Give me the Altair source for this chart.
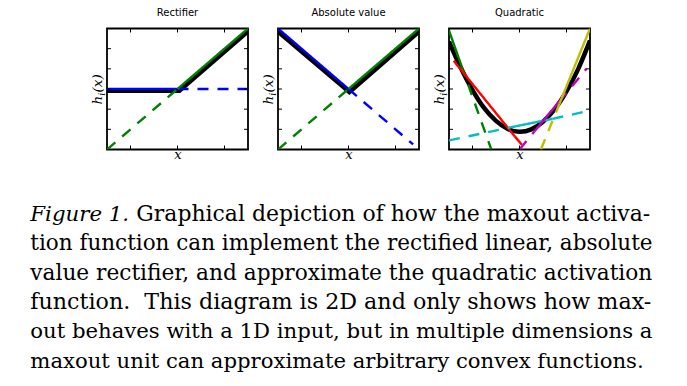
import altair as alt
import pandas as pd

# ---------------- data ----------------
COLOR_NAMES = ["blue", "green", "red", "cyan", "magenta", "yellow"]
COLOR_HEX = ["#0000ff", "#008000", "#ff0000", "#00bfbf", "#bf00bf", "#bfbf00"]
STYLE_NAMES = ["solid", "dashed"]
STYLE_DASH = [[1, 0], [11, 9]]

X_TICKS = [-2, 0, 2]
Y_TICKS_LIN = [-2, -1, 0, 1, 2]
Y_TICKS_QUAD = [1, 2, 3, 4, 5]

# Rectifier: linear pieces (start x/y, end x/y)
RECT_SERIES = ["blue", "blue", "green", "green"]
RECT_STYLE = ["solid", "dashed", "dashed", "solid"]
RECT_X0 = [-3, 0, -3, 0]
RECT_Y0 = [0, 0, -3, 0]
RECT_X1 = [0, 3, 0, 3]
RECT_Y1 = [0, 0, 0, 3]
RECT_BLACK_X = [-3, 0.08, 3]
RECT_BLACK_Y = [-0.09, -0.09, 2.86]

# Absolute value
ABS_SERIES = ["blue", "blue", "green", "green"]
ABS_STYLE = ["solid", "dashed", "dashed", "solid"]
ABS_X0 = [-3, 0, -3, 0]
ABS_Y0 = [3, 0, -3, 0]
ABS_X1 = [0, 2.75, 0, 3]
ABS_Y1 = [0, -2.75, 0, 3]
ABS_BLACK_X = [-3, 0.04, 3]
ABS_BLACK_Y = [2.85, -0.15, 2.85]

# Quadratic
QUAD_SERIES = ["green", "green", "red", "red", "cyan", "cyan", "cyan",
               "magenta", "magenta", "magenta", "yellow", "yellow"]
QUAD_STYLE = ["solid", "dashed", "solid", "dashed", "dashed", "solid", "dashed",
              "dashed", "solid", "dashed", "dashed", "solid"]
QUAD_X0 = [-3, -2.47, -2.8, -0.2, -3, -0.5, 1.4, 0.0, 0.63, 1.69, 0.91, 1.7]
QUAD_Y0 = [5.9, 4.15, 4.4, 0.65, 0.45, 1.07, 1.52, 0.0, 0.89, 2.38, 0.0, 2.27]
QUAD_X1 = [-2.47, -1.2, -0.2, 0.27, -0.5, 1.4, 3.0, 0.63, 1.69, 2.85, 1.7, 3.0]
QUAD_Y1 = [4.15, 0.0, 0.65, 0.0, 1.07, 1.52, 1.93, 0.89, 2.38, 4.0, 2.27, 6.0]
QUAD_CURVE_X = [-3, -2.5, -2, -1.5, -1, -0.5, 0, 0.5, 1, 1.5, 2, 2.5, 3]
QUAD_CURVE_Y = [5.35, 4.05, 2.95, 2.05, 1.42, 1.02, 0.88, 1.0, 1.38, 2.0, 2.88, 4.0, 5.4]

TITLES = ["Rectifier", "Absolute value", "Quadratic"]
YLABEL_PARTS = ["h", "i", "(x)"]  # h_i(x)
XLABEL = "x"
CAPTION_LEAD = "Figure 1."
CAPTION_LINES = [
    "Graphical depiction of how the maxout activa-",
    "tion function can implement the rectified linear, absolute",
    "value rectifier, and approximate the quadratic activation",
    "function.\u00a0 This diagram is 2D and only shows how max-",
    "out behaves with a 1D input, but in multiple dimensions a",
    "maxout unit can approximate arbitrary convex functions.",
]

# ---------------- chart ----------------
W, H = 141, 121
XS = alt.Scale(domain=[-3, 3], nice=False, zero=False)
SERIF = "DejaVu Serif"
CAP_SIZE = 21.3
CAP_LH = 29.3
# per-line size factors to imitate the justified paragraph
CAP_FIT = [1.03, 1.01, 1.018, 1.042, 0.995, 0.995]

XAXIS = alt.Axis(title=XLABEL, labels=False, ticks=False, domain=False, grid=False,
                 titleFont=SERIF, titleFontStyle="italic", titleFontWeight="normal",
                 titleFontSize=13, titleColor="black", titlePadding=-1)


def seg_frame(series, style, x0, y0, x1, y1):
    rows = []
    for i in range(len(series)):
        rows.append(dict(seg=i, ord=0, series=series[i], style=style[i], x=x0[i], y=y0[i]))
        rows.append(dict(seg=i, ord=1, series=series[i], style=style[i], x=x1[i], y=y1[i]))
    return pd.DataFrame(rows)


def ylabel_layers():
    # rotated "h_i(x)" built from three text pieces
    fs, fs_sub = 13.5, 9.5
    bx, by = -4.7, 76.0
    specs = [
        (YLABEL_PARTS[0], fs, bx, by),
        (YLABEL_PARTS[1], fs_sub, bx + 3.0, by - 8.8),
        (YLABEL_PARTS[2], fs, bx, by - 8.8 - 3.3),
    ]
    out = []
    for txt, size, px, py in specs:
        out.append(alt.Chart(pd.DataFrame({"t": [txt]})).mark_text(
            angle=270, align="left", baseline="alphabetic", x=px, y=py,
            font=SERIF, fontStyle="italic", fontSize=size, color="black"
        ).encode(text="t:N"))
    return out


def panel(title, segs, bx, by, ydom, yticks, interp="linear", extra=None):
    ys = alt.Scale(domain=ydom, nice=False, zero=False)
    X = lambda: alt.X("x:Q", scale=XS, axis=XAXIS)
    Y = lambda: alt.Y("y:Q", scale=ys, axis=None)
    black = alt.Chart(pd.DataFrame({"x": bx, "y": by})).mark_line(
        color="black", strokeWidth=4.5, interpolate=interp, clip=True
    ).encode(x=X(), y=Y())
    lines = alt.Chart(segs).mark_line(strokeWidth=2.4, clip=True, strokeCap="butt").encode(
        x=X(), y=Y(),
        color=alt.Color("series:N", scale=alt.Scale(domain=COLOR_NAMES, range=COLOR_HEX), legend=None),
        strokeDash=alt.StrokeDash("style:N", scale=alt.Scale(domain=STYLE_NAMES, range=STYLE_DASH), legend=None),
        detail="seg:N",
        order="ord:Q",
    )
    xt = pd.DataFrame({"x": X_TICKS})
    yt = pd.DataFrame({"y": yticks})
    rule = dict(color="black", strokeWidth=1)
    tb = alt.Chart(xt).mark_rule(**rule).encode(x=X(), y=alt.value(H), y2=alt.value(H - 4))
    tt = alt.Chart(xt).mark_rule(**rule).encode(x=X(), y=alt.value(0), y2=alt.value(4))
    tl = alt.Chart(yt).mark_rule(**rule).encode(y=Y(), x=alt.value(0), x2=alt.value(4))
    tr = alt.Chart(yt).mark_rule(**rule).encode(y=Y(), x=alt.value(W), x2=alt.value(W - 4))
    layers = [black, lines, tb, tt, tl, tr] + ylabel_layers() + (extra or [])
    return alt.layer(*layers).properties(
        width=W, height=H,
        title=alt.TitleParams(title, font="DejaVu Sans", fontSize=10, fontWeight="normal",
                              offset=2, baseline="alphabetic", color="black"),
    )


cap_x = -76.7
cap_y = 192.6
caption = [alt.Chart(pd.DataFrame({"t": [CAPTION_LEAD]})).mark_text(
    align="left", baseline="alphabetic", x=cap_x, y=cap_y, font=SERIF,
    fontStyle="italic", fontSize=CAP_SIZE, color="black").encode(text="t:N")]
for i, line in enumerate(CAPTION_LINES):
    caption.append(alt.Chart(pd.DataFrame({"t": [line]})).mark_text(
        align="left", baseline="alphabetic",
        x=29.3 if i == 0 else cap_x, y=cap_y + i * CAP_LH, font=SERIF,
        fontSize=round(CAP_SIZE * CAP_FIT[i], 2), color="black").encode(text="t:N"))

p1 = panel(TITLES[0], seg_frame(RECT_SERIES, RECT_STYLE, RECT_X0, RECT_Y0, RECT_X1, RECT_Y1),
           RECT_BLACK_X, RECT_BLACK_Y, [-3, 3], Y_TICKS_LIN, extra=caption)
p2 = panel(TITLES[1], seg_frame(ABS_SERIES, ABS_STYLE, ABS_X0, ABS_Y0, ABS_X1, ABS_Y1),
           ABS_BLACK_X, ABS_BLACK_Y, [-3, 3], Y_TICKS_LIN)
p3 = panel(TITLES[2], seg_frame(QUAD_SERIES, QUAD_STYLE, QUAD_X0, QUAD_Y0, QUAD_X1, QUAD_Y1),
           QUAD_CURVE_X, QUAD_CURVE_Y, [0, 6], Y_TICKS_QUAD, interp="natural")

chart = alt.hconcat(p1, p2, p3, spacing=30, bounds="flush").properties(
    padding={"left": 21, "top": -1.5, "right": 5, "bottom": 5},
    background="white",
).configure_view(stroke="black", strokeWidth=1.8)

chart.save("out.html", embed_options={"renderer": "svg", "actions": False})
